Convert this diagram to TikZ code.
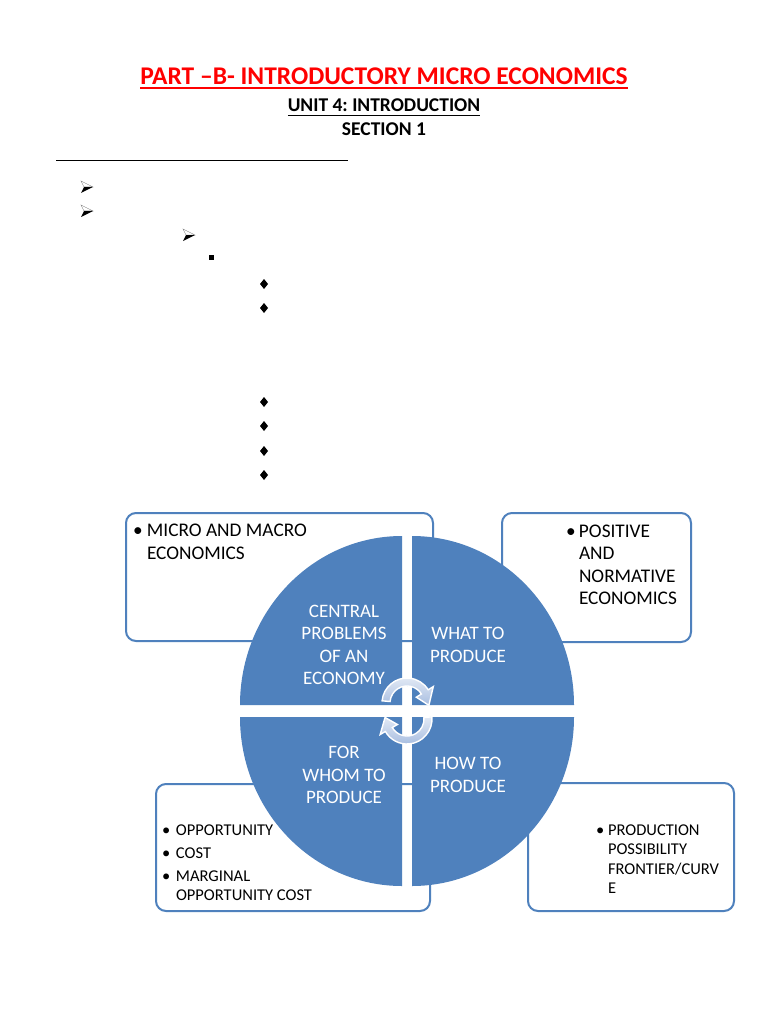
\documentclass[tikz,border=0pt]{standalone}
\usepackage{fontspec}
\setmainfont{Carlito}
\usetikzlibrary{calc}
\frenchspacing
\definecolor{qblue}{HTML}{4F81BD}
\definecolor{tred}{HTML}{FF0000}
\definecolor{arrtop}{HTML}{E3EAF5}
\definecolor{arrbot}{HTML}{A7BDE0}
\newcommand\itm[1]{\makebox[#1][l]{\textbullet}}
\newcommand\ind[1]{\hspace*{#1}}
\tikzset{
 txt/.style={inner sep=0pt, outer sep=0pt},
 qtxt/.style={txt, text=white, align=center, font=\fontsize{19}{22.5}\selectfont},
 btxt/.style={txt, align=left, anchor=north west, font=\fontsize{19.3}{22.5}\selectfont},
 stxt/.style={txt, align=left, anchor=north west, font=\fontsize{16.5}{19.5}\selectfont},
 cbox/.style={draw=qblue, line width=2pt, rounded corners=10pt, fill=white, anchor=north west, inner sep=0pt},
 quad/.style={fill=qblue},
 carr/.style={draw=white, line width=1.4pt, top color=arrtop, bottom color=arrbot},
 arrowmark/.pic={
   \filldraw[draw=gray, fill=white, line width=0.4pt] (-6,-6) -- (6,0) -- (-3,0) -- cycle;
   \fill[black] (-3,0) -- (6,0) -- (-6,6) -- cycle;
 },
 dmdmark/.pic={\fill[black] (0,-5) -- (4,0) -- (0,5) -- (-4,0) -- cycle;},
}
\begin{document}
\begin{tikzpicture}[x=1pt,y=-1pt]
\useasboundingbox (0,0) rectangle (768,1024);
\fill[white] (0,0) rectangle (768,1024);

% header
\node[txt, font=\fontsize{25.5}{29}\selectfont\bfseries, text=tred, anchor=base] (title) at (384,85) {PART –B- INTRODUCTORY MICRO ECONOMICS};
\draw[tred, line width=1.7pt] ($(title.base west)+(0,3)$) -- ($(title.base east)+(0,3)$);
\node[txt, font=\fontsize{19.5}{22}\selectfont\bfseries, anchor=base] (unit) at (384,111.5) {UNIT 4: INTRODUCTION};
\draw[line width=0.9pt] ($(unit.base west)+(0,3.5)$) -- ($(unit.base east)+(0,3.5)$);
\node[txt, font=\fontsize{19.5}{22}\selectfont\bfseries, anchor=base] (sect) at (384,136) {SECTION 1};
\coordinate (r1) at (56,160);
\coordinate (r2) at (348,160);
\draw[line width=0.8pt] (r1) -- (r2);

% bullet marks
\pic at (87,187) {arrowmark};
\pic at (87,211) {arrowmark};
\pic at (189,235) {arrowmark};
\fill[black] (208.5,254.5) rectangle (213.5,259.5);
\foreach \yy in {284,308,402,426,451,475} { \pic at (264,\yy) {dmdmark}; }

% boxes
\node[cbox, minimum width=307pt, minimum height=128pt] (bTL) at (125,512) {};
\node[cbox, minimum width=189pt, minimum height=129pt] (bTR) at (501,512) {};
\node[cbox, minimum width=274pt, minimum height=127pt] (bBL) at (155,783) {};
\node[cbox, minimum width=206pt, minimum height=128pt] (bBR) at (527,782) {};

% circle quadrants
\fill[quad] (402,705) -- (240,705) arc[start angle=180, end angle=270, x radius=162, y radius=169] -- cycle;
\fill[quad] (412,705) -- (412,536) arc[start angle=270, end angle=360, x radius=162, y radius=169] -- cycle;
\fill[quad] (412,717) -- (574,717) arc[start angle=0, end angle=90, x radius=162, y radius=169] -- cycle;
\fill[quad] (402,717) -- (402,886) arc[start angle=90, end angle=180, x radius=162, y radius=169] -- cycle;

% box texts
\node[btxt] (tTL) at (133,524) {\itm{14pt}MICRO AND MACRO\\\ind{14pt}ECONOMICS};
\node[btxt] (tTR) at (566,524.5) {\itm{13pt}POSITIVE\\\ind{13pt}AND\\\ind{13pt}NORMATIVE\\\ind{13pt}ECONOMICS};
\node[stxt] (tBL) at (162,824.5) {\itm{14pt}OPPORTUNITY\\[3.5pt]\itm{14pt}COST\\[3.5pt]\itm{14pt}MARGINAL\\\ind{14pt}OPPORTUNITY COST};
\node[stxt] (tBR) at (596,824.5) {\itm{12pt}PRODUCTION\\\ind{12pt}POSSIBILITY\\\ind{12pt}FRONTIER/CURV\\\ind{12pt}E};

% quadrant texts
\node[qtxt] (qTL) at (344,645) {CENTRAL\\PROBLEMS\\OF AN\\ECONOMY};
\node[qtxt] (qTR) at (468,645) {WHAT TO\\PRODUCE};
\node[qtxt] (qBL) at (344,775) {FOR\\WHOM TO\\PRODUCE};
\node[qtxt] (qBR) at (468,775) {HOW TO\\PRODUCE};

% circular arrows
\coordinate (ca) at (407,703);
\filldraw[carr] ($(ca)+(185:25)$) arc[start angle=185, end angle=328, radius=25] -- ($(ca)+(328:31)$) -- ($(ca)+(6:22)$) -- ($(ca)+(328:11)$) -- ($(ca)+(328:17)$) arc[start angle=328, end angle=185, radius=17] -- cycle;
\coordinate (cb) at (407,719);
\filldraw[carr] ($(cb)+(-5:25)$) arc[start angle=-5, end angle=150, radius=25] -- ($(cb)+(150:31)$) -- ($(cb)+(184:22)$) -- ($(cb)+(150:11)$) -- ($(cb)+(150:17)$) arc[start angle=150, end angle=-5, radius=17] -- cycle;
\end{tikzpicture}
\end{document}
